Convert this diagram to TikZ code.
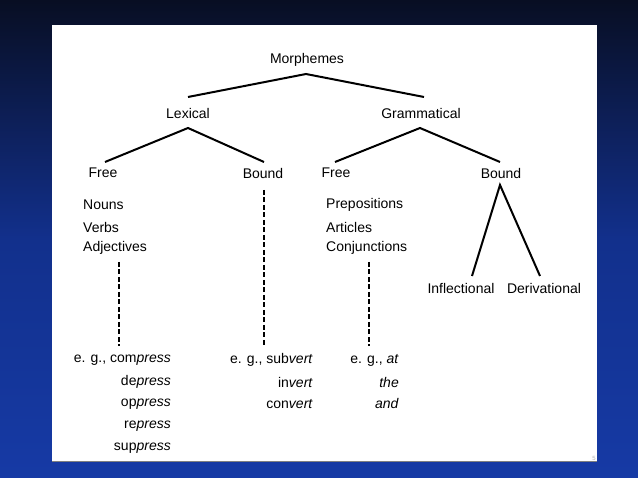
\documentclass[tikz,border=0pt]{standalone}
\usepackage{fontspec}
\setmainfont{Liberation Sans}
\begin{document}
\begin{tikzpicture}[x=1pt,y=-1pt,
  lbl/.style={font=\fontsize{14}{16}\selectfont,inner sep=0pt},
  br/.style={line width=2pt},
  dsh/.style={line width=2pt,dash pattern=on 5pt off 2.5pt}]
\useasboundingbox (0,0) rectangle (638,478);
\shade[top color={rgb,255:red,8;green,14;blue,35}, bottom color={rgb,255:red,22;green,58;blue,165}, middle color={rgb,255:red,18;green,48;blue,140}] (0,0) rectangle (638,478);
\fill[white] (52,25) rectangle (597,462);
\draw[gray,line width=1pt] (52,462) -- (597,462);
\node[font=\fontsize{6}{7}\selectfont,text=gray!60] (pg) at (594,458) {5};
\node[lbl] (m) at (307,60) {Morphemes};
\node[lbl] (lx) at (188,113) {Lexical};
\node[lbl] (gr) at (421,113) {Grammatical};
\node[lbl] (f1) at (103,173) {Free};
\node[lbl] (b1) at (263,173) {Bound};
\node[lbl] (f2) at (336,173) {Free};
\node[lbl] (b2) at (501,173) {Bound};
\node[lbl] (in) at (461,288) {Inflectional};
\node[lbl] (de) at (544,288) {Derivational};
\coordinate (mt) at (306,74);
\coordinate (lxt) at (188,128); \coordinate (grt) at (420,128);
\draw[br] (188,97) -- (mt) -- (424,97);
\draw[br] (105,162) -- (lxt) -- (264,162);
\draw[br] (335,162) -- (grt) -- (500,162);
\draw[br] (472,276) -- (500,185) -- (540,276);
\node[lbl,anchor=west] (n1) at (83,205) {Nouns};
\node[lbl,anchor=west] (n2) at (83,227) {Verbs};
\node[lbl,anchor=west] (n3) at (83,248) {Adjectives};
\node[lbl,anchor=west] (p1) at (326,205) {Prepositions};
\node[lbl,anchor=west] (p2) at (326,227) {Articles};
\node[lbl,anchor=west] (p3) at (326,248) {Conjunctions};
\draw[dsh] (119,262) -- (119,346);
\draw[dsh] (264,190) -- (264,346);
\draw[dsh] (369,262) -- (369,346);
\node[lbl,anchor=east] (e1) at (171,360) {e. g., com\textit{press}};
\node[lbl,anchor=east] (e2) at (171,382) {de\textit{press}};
\node[lbl,anchor=east] (e3) at (171,404) {op\textit{press}};
\node[lbl,anchor=east] (e4) at (171,426) {re\textit{press}};
\node[lbl,anchor=east] (e5) at (171,448) {sup\textit{press}};
\node[lbl,anchor=east] (v1) at (313,360) {e. g., sub\textit{vert}};
\node[lbl,anchor=east] (v2) at (313,382) {in\textit{vert}};
\node[lbl,anchor=east] (v3) at (313,404) {con\textit{vert}};
\node[lbl,anchor=east] (a1) at (399,360) {e. g., \textit{at}};
\node[lbl,anchor=east] (a2) at (399,382) {\textit{the}};
\node[lbl,anchor=east] (a3) at (399,404) {\textit{and}};
\end{tikzpicture}
\end{document}
